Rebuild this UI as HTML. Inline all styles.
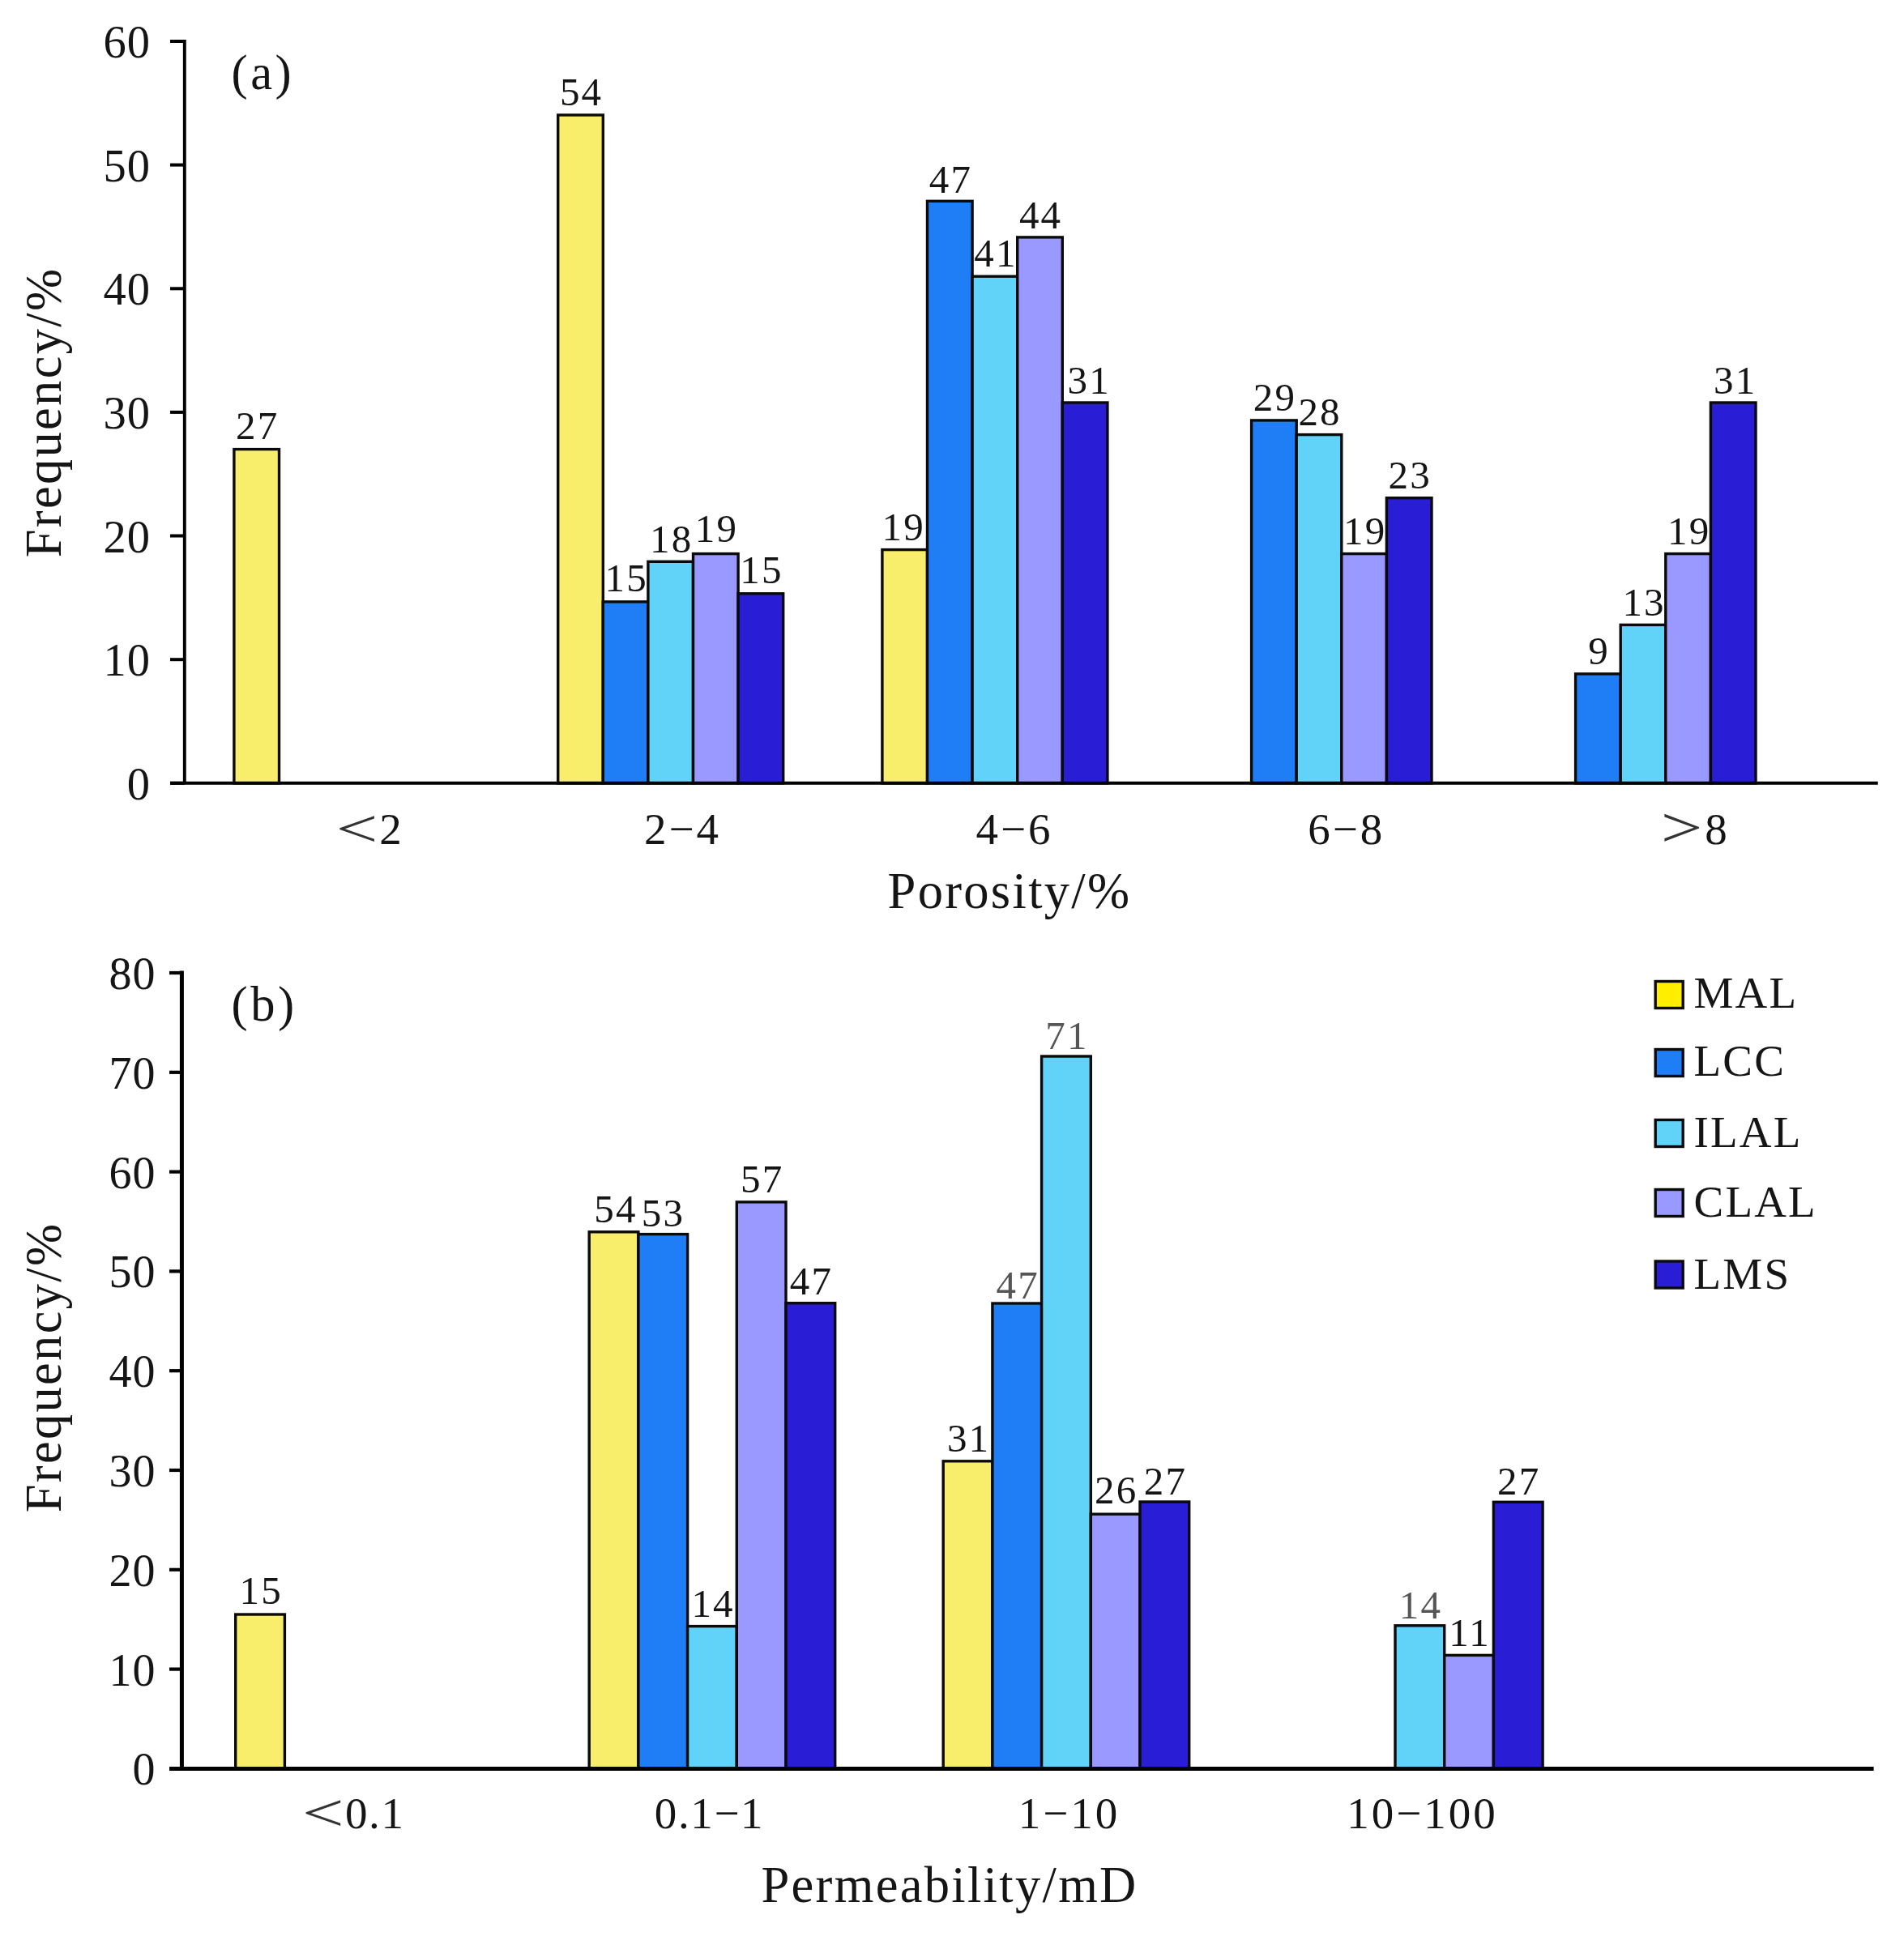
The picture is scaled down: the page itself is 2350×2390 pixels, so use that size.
<!DOCTYPE html>
<html lang="en"><head><meta charset="utf-8"><title>Porosity and permeability frequency</title>
<style>html,body{margin:0;padding:0;background:#fff}svg{display:block}text{font-family:"Liberation Serif",serif;fill:#151515}.tk{font-size:56.5px;text-anchor:end;letter-spacing:1px}.tkb{font-size:56px;text-anchor:end;letter-spacing:1px}.bl{font-size:49px;text-anchor:middle;letter-spacing:2.2px}.ct{font-size:55px;text-anchor:middle;letter-spacing:3px}.cs{font-size:55px;text-anchor:start;letter-spacing:3px}.an{font-size:65px;fill:#333}.ax{font-size:62.5px;text-anchor:middle;letter-spacing:2.3px}.pn{font-size:60.5px;letter-spacing:3.5px}.lg{font-size:55px;letter-spacing:2.2px}.g{fill:#555}</style></head><body>
<svg width="2350" height="2390" viewBox="0 0 2350 2390">
<rect width="2350" height="2390" fill="#fff"/>
<rect x="288.9" y="554.6" width="55.6" height="412.2" fill="#F9EE6B" stroke="#0a0a0a" stroke-width="3.4"/>
<rect x="688.7" y="142.0" width="55.6" height="824.8" fill="#F9EE6B" stroke="#0a0a0a" stroke-width="3.4"/>
<rect x="744.3" y="742.9" width="55.6" height="223.9" fill="#1F7EF6" stroke="#0a0a0a" stroke-width="3.4"/>
<rect x="799.9" y="693.3" width="55.6" height="273.5" fill="#62D3F8" stroke="#0a0a0a" stroke-width="3.4"/>
<rect x="855.5" y="683.6" width="55.6" height="283.2" fill="#9999FF" stroke="#0a0a0a" stroke-width="3.4"/>
<rect x="911.1" y="732.8" width="55.6" height="234.0" fill="#2A1DD6" stroke="#0a0a0a" stroke-width="3.4"/>
<rect x="1088.9" y="678.6" width="55.6" height="288.2" fill="#F9EE6B" stroke="#0a0a0a" stroke-width="3.4"/>
<rect x="1144.5" y="248.3" width="55.6" height="718.5" fill="#1F7EF6" stroke="#0a0a0a" stroke-width="3.4"/>
<rect x="1200.1" y="341.2" width="55.6" height="625.6" fill="#62D3F8" stroke="#0a0a0a" stroke-width="3.4"/>
<rect x="1255.7" y="292.9" width="55.6" height="673.9" fill="#9999FF" stroke="#0a0a0a" stroke-width="3.4"/>
<rect x="1311.3" y="497.0" width="55.6" height="469.8" fill="#2A1DD6" stroke="#0a0a0a" stroke-width="3.4"/>
<rect x="1544.6" y="518.9" width="55.6" height="447.9" fill="#1F7EF6" stroke="#0a0a0a" stroke-width="3.4"/>
<rect x="1600.2" y="536.6" width="55.6" height="430.2" fill="#62D3F8" stroke="#0a0a0a" stroke-width="3.4"/>
<rect x="1655.8" y="683.6" width="55.6" height="283.2" fill="#9999FF" stroke="#0a0a0a" stroke-width="3.4"/>
<rect x="1711.4" y="614.7" width="55.6" height="352.1" fill="#2A1DD6" stroke="#0a0a0a" stroke-width="3.4"/>
<rect x="1944.6" y="831.9" width="55.6" height="134.9" fill="#1F7EF6" stroke="#0a0a0a" stroke-width="3.4"/>
<rect x="2000.2" y="771.4" width="55.6" height="195.4" fill="#62D3F8" stroke="#0a0a0a" stroke-width="3.4"/>
<rect x="2055.8" y="683.6" width="55.6" height="283.2" fill="#9999FF" stroke="#0a0a0a" stroke-width="3.4"/>
<rect x="2111.4" y="497.0" width="55.6" height="469.8" fill="#2A1DD6" stroke="#0a0a0a" stroke-width="3.4"/>
<text class="bl" x="317.8" y="541.6">27</text>
<text class="bl" x="717.6" y="130.0">54</text>
<text class="bl" x="773.2" y="730.3">15</text>
<text class="bl" x="828.8" y="681.8">18</text>
<text class="bl" x="884.4" y="668.9">19</text>
<text class="bl" x="940.0" y="720.2">15</text>
<text class="bl" x="1115.3" y="667.1">19</text>
<text class="bl" x="1173.4" y="238.3">47</text>
<text class="bl" x="1229.0" y="328.8">41</text>
<text class="bl" x="1284.6" y="281.6">44</text>
<text class="bl" x="1344.2" y="485.5">31</text>
<text class="bl" x="1573.5" y="507.4">29</text>
<text class="bl" x="1629.1" y="525.1">28</text>
<text class="bl" x="1684.7" y="672.1">19</text>
<text class="bl" x="1740.3" y="603.2">23</text>
<text class="bl" x="1973.5" y="820.4">9</text>
<text class="bl" x="2029.1" y="759.9">13</text>
<text class="bl" x="2084.7" y="672.1">19</text>
<text class="bl" x="2141.8" y="485.5">31</text>
<path d="M227.8 49 V966.8 M210 966.8 H2317.8" fill="none" stroke="#000" stroke-width="3.9"/>
<path d="M210 966.8 H228" stroke="#000" stroke-width="4"/>
<text class="tk" x="186" y="986.8">0</text>
<path d="M210 814.2 H228" stroke="#000" stroke-width="4"/>
<text class="tk" x="186" y="834.2">10</text>
<path d="M210 661.5 H228" stroke="#000" stroke-width="4"/>
<text class="tk" x="186" y="681.5">20</text>
<path d="M210 508.9 H228" stroke="#000" stroke-width="4"/>
<text class="tk" x="186" y="528.9">30</text>
<path d="M210 356.3 H228" stroke="#000" stroke-width="4"/>
<text class="tk" x="186" y="376.3">40</text>
<path d="M210 203.6 H228" stroke="#000" stroke-width="4"/>
<text class="tk" x="186" y="223.6">50</text>
<path d="M210 51.0 H228" stroke="#000" stroke-width="4"/>
<text class="tk" x="186" y="71.0">60</text>
<text class="pn" x="285.5" y="110">(a)</text>
<text class="ax" transform="translate(75.2 509) rotate(-90)">Frequency/%</text>
<text class="an" transform="translate(414.8 1044.8) scale(1.41 1)">&lt;</text>
<text class="cs" x="468.3" y="1041.5">2</text>
<text class="ct" x="842.5" y="1041.5">2−4</text>
<text class="ct" x="1252" y="1041.5">4−6</text>
<text class="ct" x="1661.8" y="1041.5">6−8</text>
<text class="an" transform="translate(2049.7 1045) scale(1.41 1.06)">&gt;</text>
<text class="cs" x="2104.2" y="1041.5">8</text>
<text class="ax" x="1246" y="1121">Porosity/%</text>
<rect x="290.7" y="1993.0" width="60.7" height="190.4" fill="#F9EE6B" stroke="#0a0a0a" stroke-width="3.4"/>
<rect x="727.2" y="1520.8" width="60.7" height="662.6" fill="#F9EE6B" stroke="#0a0a0a" stroke-width="3.4"/>
<rect x="787.9" y="1523.6" width="60.7" height="659.8" fill="#1F7EF6" stroke="#0a0a0a" stroke-width="3.4"/>
<rect x="848.6" y="2007.6" width="60.7" height="175.8" fill="#62D3F8" stroke="#0a0a0a" stroke-width="3.4"/>
<rect x="909.3" y="1483.9" width="60.7" height="699.5" fill="#9999FF" stroke="#0a0a0a" stroke-width="3.4"/>
<rect x="970.0" y="1608.7" width="60.7" height="574.7" fill="#2A1DD6" stroke="#0a0a0a" stroke-width="3.4"/>
<rect x="1164.2" y="1803.8" width="60.7" height="379.6" fill="#F9EE6B" stroke="#0a0a0a" stroke-width="3.4"/>
<rect x="1224.9" y="1609.0" width="60.7" height="574.4" fill="#1F7EF6" stroke="#0a0a0a" stroke-width="3.4"/>
<rect x="1285.6" y="1304.0" width="60.7" height="879.4" fill="#62D3F8" stroke="#0a0a0a" stroke-width="3.4"/>
<rect x="1346.3" y="1869.2" width="60.7" height="314.2" fill="#9999FF" stroke="#0a0a0a" stroke-width="3.4"/>
<rect x="1407.0" y="1854.0" width="60.7" height="329.4" fill="#2A1DD6" stroke="#0a0a0a" stroke-width="3.4"/>
<rect x="1722.0" y="2006.8" width="60.7" height="176.6" fill="#62D3F8" stroke="#0a0a0a" stroke-width="3.4"/>
<rect x="1782.7" y="2043.4" width="60.7" height="140.0" fill="#9999FF" stroke="#0a0a0a" stroke-width="3.4"/>
<rect x="1843.4" y="1854.3" width="60.7" height="329.1" fill="#2A1DD6" stroke="#0a0a0a" stroke-width="3.4"/>
<text class="bl" x="322.2" y="1980.0">15</text>
<text class="bl" x="760.0" y="1508.9">54</text>
<text class="bl" x="818.4" y="1514.0">53</text>
<text class="bl" x="880.1" y="1996.1">14</text>
<text class="bl" x="940.8" y="1472.0">57</text>
<text class="bl" x="1001.5" y="1598.1">47</text>
<text class="bl" x="1195.6" y="1792.3">31</text>
<text class="bl g" x="1256.3" y="1602.5">47</text>
<text class="bl g" x="1317.0" y="1295.0">71</text>
<text class="bl" x="1377.8" y="1855.7">26</text>
<text class="bl" x="1438.4" y="1844.5">27</text>
<text class="bl g" x="1753.4" y="1998.3">14</text>
<text class="bl" x="1814.1" y="2031.9">11</text>
<text class="bl" x="1874.8" y="1844.8">27</text>
<path d="M224.4 1198.5 V2183.4 M209 2183.4 H2312.6" fill="none" stroke="#000" stroke-width="5"/>
<path d="M209 2183.4 H225" stroke="#000" stroke-width="4.2"/>
<text class="tkb" x="192.5" y="2203.4">0</text>
<path d="M209 2060.6 H225" stroke="#000" stroke-width="4.2"/>
<text class="tkb" x="192.5" y="2080.6">10</text>
<path d="M209 1937.8 H225" stroke="#000" stroke-width="4.2"/>
<text class="tkb" x="192.5" y="1957.8">20</text>
<path d="M209 1815.0 H225" stroke="#000" stroke-width="4.2"/>
<text class="tkb" x="192.5" y="1835.0">30</text>
<path d="M209 1692.2 H225" stroke="#000" stroke-width="4.2"/>
<text class="tkb" x="192.5" y="1712.2">40</text>
<path d="M209 1569.4 H225" stroke="#000" stroke-width="4.2"/>
<text class="tkb" x="192.5" y="1589.4">50</text>
<path d="M209 1446.6 H225" stroke="#000" stroke-width="4.2"/>
<text class="tkb" x="192.5" y="1466.6">60</text>
<path d="M209 1323.8 H225" stroke="#000" stroke-width="4.2"/>
<text class="tkb" x="192.5" y="1343.8">70</text>
<path d="M209 1201.0 H225" stroke="#000" stroke-width="4.2"/>
<text class="tkb" x="192.5" y="1221.0">80</text>
<text class="pn" x="285.5" y="1260">(b)</text>
<text class="ax" transform="translate(75.2 1688) rotate(-90)">Frequency/%</text>
<text class="an" transform="translate(373 2260) scale(1.41 1)">&lt;</text>
<text class="cs" style="letter-spacing:1.6px" x="426" y="2257">0.1</text>
<text class="ct" style="letter-spacing:1.6px" x="875.5" y="2257">0.1−1</text>
<text class="ct" x="1319.5" y="2257">1−10</text>
<text class="ct" x="1755.5" y="2257">10−100</text>
<text class="ax" x="1172" y="2348">Permeability/mD</text>
<rect x="2043.2" y="1211.5" width="34" height="33" fill="#FFEE00" stroke="#0a0a0a" stroke-width="3.4"/>
<text class="lg" x="2090.5" y="1244">MAL</text>
<rect x="2043.2" y="1295.5" width="34" height="33" fill="#1F7EF6" stroke="#0a0a0a" stroke-width="3.4"/>
<text class="lg" x="2090.5" y="1328">LCC</text>
<rect x="2043.2" y="1382.5" width="34" height="33" fill="#62D3F8" stroke="#0a0a0a" stroke-width="3.4"/>
<text class="lg" x="2090.5" y="1416">ILAL</text>
<rect x="2043.2" y="1468.5" width="34" height="33" fill="#9999FF" stroke="#0a0a0a" stroke-width="3.4"/>
<text class="lg" x="2090.5" y="1502">CLAL</text>
<rect x="2043.2" y="1557.0" width="34" height="33" fill="#2A1DD6" stroke="#0a0a0a" stroke-width="3.4"/>
<text class="lg" x="2090.5" y="1590.5">LMS</text>
</svg></body></html>
